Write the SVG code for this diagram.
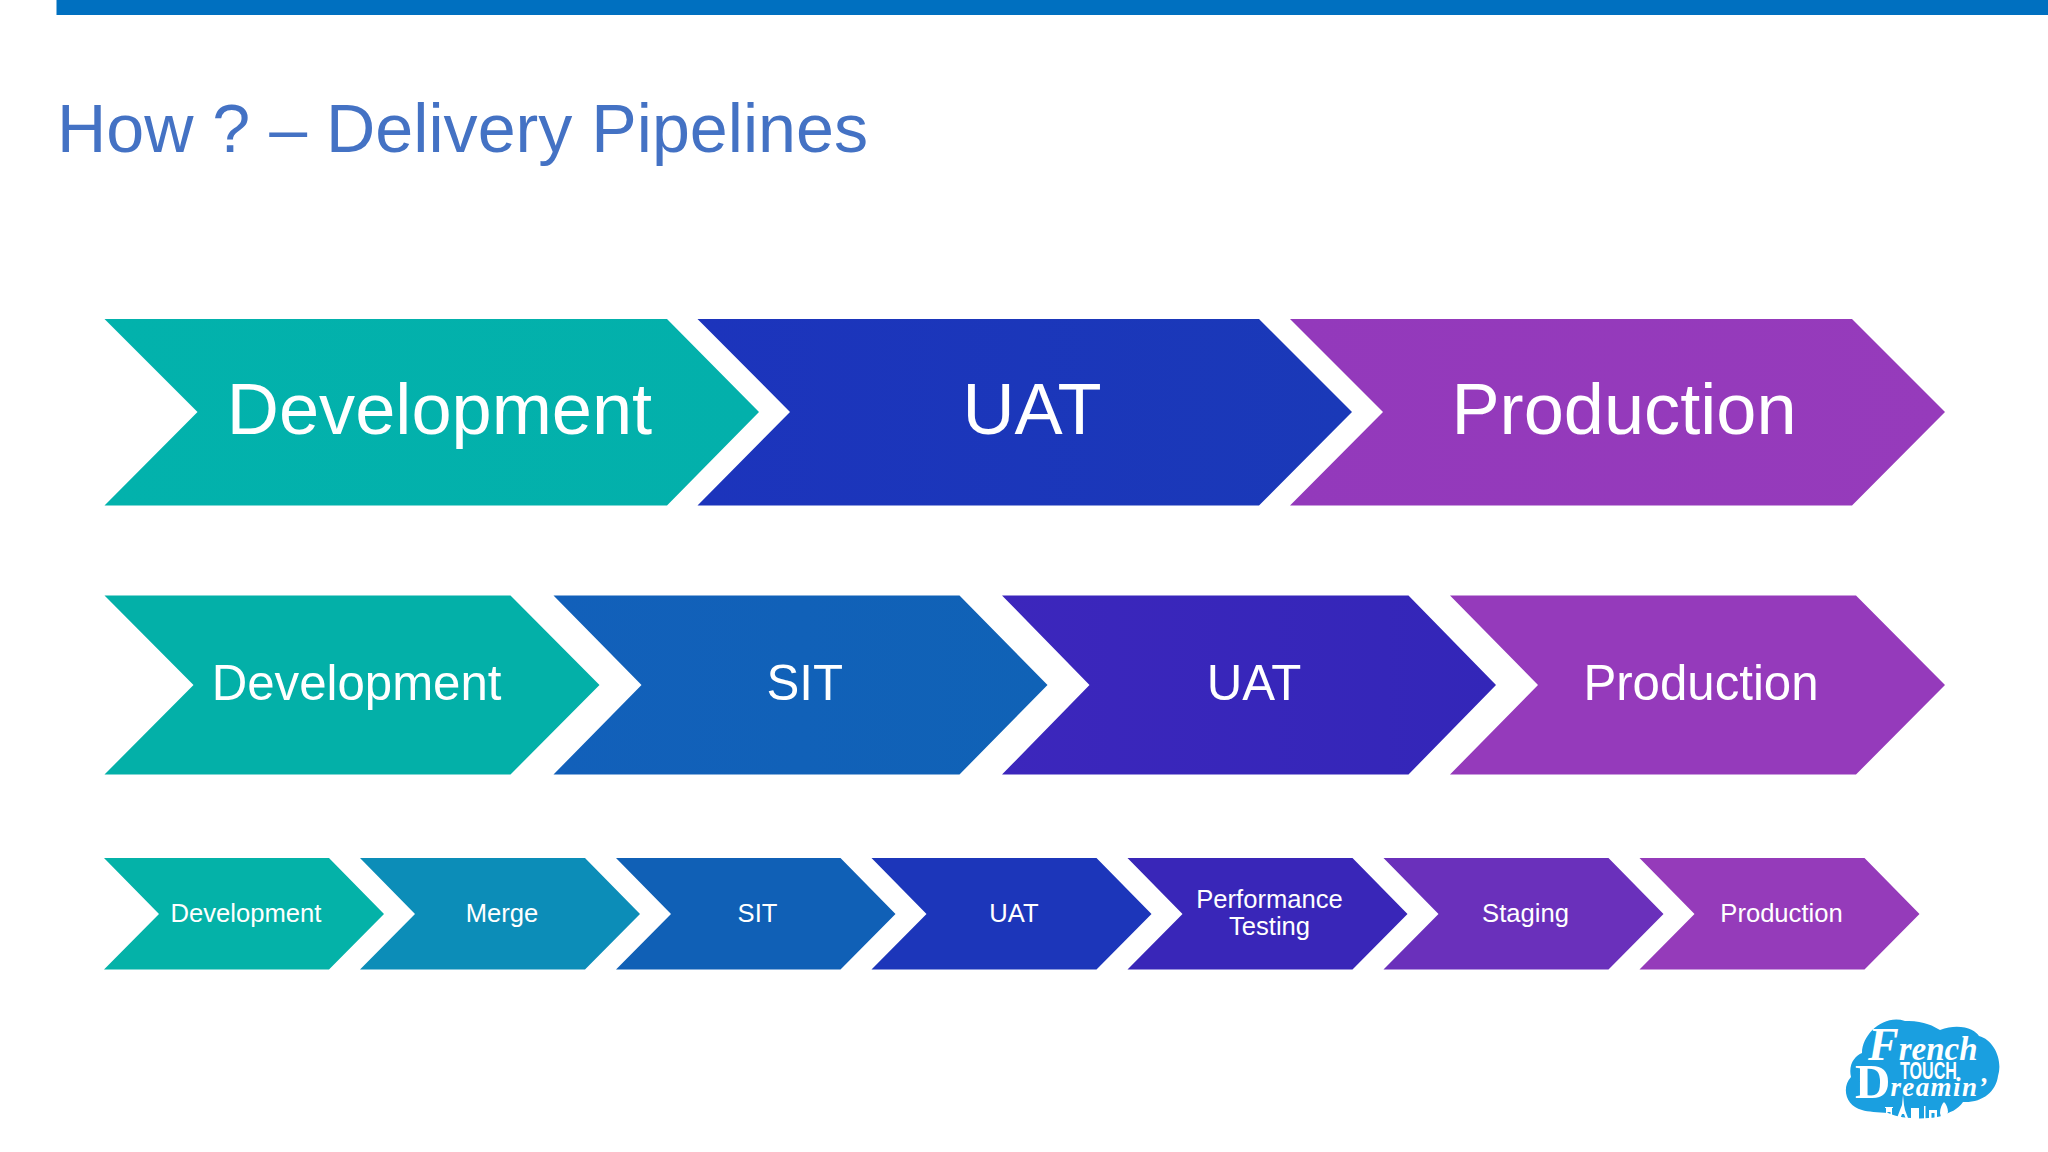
<svg xmlns="http://www.w3.org/2000/svg" width="2048" height="1152" viewBox="0 0 2048 1152">
<style>
text{font-family:"Liberation Sans",Arial,sans-serif;fill:#fff;text-anchor:middle}
.r1{font-size:72.2px}.r2{font-size:49.2px}.r3{font-size:25.6px}
.title{font-size:68.2px;fill:#4472c4;text-anchor:start}
.serif{font-family:"Liberation Serif",serif;font-weight:bold;text-anchor:start}
.sky{fill:#fff}
</style>
<defs>
<linearGradient id="g1a" x1="0" x2="1" y1="0" y2="0"><stop offset="0" stop-color="#02b2ac"/><stop offset="1" stop-color="#03b0ab"/></linearGradient>
<linearGradient id="g1b" x1="0" x2="1" y1="0" y2="0"><stop offset="0" stop-color="#1c34bc"/><stop offset="1" stop-color="#1a39b8"/></linearGradient>
<linearGradient id="g1c" x1="0" x2="1" y1="0" y2="0"><stop offset="0" stop-color="#9339bb"/><stop offset="1" stop-color="#963bbb"/></linearGradient>
<linearGradient id="g2b" x1="0" x2="1" y1="0" y2="0"><stop offset="0" stop-color="#1260ba"/><stop offset="1" stop-color="#1062b6"/></linearGradient>
<linearGradient id="g2c" x1="0" x2="1" y1="0" y2="0"><stop offset="0" stop-color="#3c26bc"/><stop offset="1" stop-color="#3326b8"/></linearGradient>
</defs>
<rect width="2048" height="1152" fill="#fff"/>
<rect x="56.500" y="0" width="1991.500" height="15" fill="#0070c0"/>
<text class="title" x="57" y="152">How ? – Delivery Pipelines</text>

<g id="row1-development"><polygon points="104.500,319 667,319 759,412 667,505.500 104.500,505.500 197.500,412" fill="url(#g1a)"/><text class="r1" x="439.500" y="434">Development</text></g>
<g id="row1-uat"><polygon points="697.500,319 1259,319 1352,412 1259,505.500 697.500,505.500 790,412" fill="url(#g1b)"/><text class="r1" x="1032" y="434">UAT</text></g>
<g id="row1-production"><polygon points="1290,319 1852,319 1945,412 1852,505.500 1290,505.500 1383,412" fill="url(#g1c)"/><text class="r1" x="1624" y="434">Production</text></g>

<g id="row2-development"><polygon points="104.500,595.500 510.500,595.500 599.500,685 510.500,774.500 104.500,774.500 193.500,685" fill="#03b0a8"/><text class="r2" x="356.600" y="700">Development</text></g>
<g id="row2-sit"><polygon points="553.500,595.500 959.500,595.500 1047.500,685 959.500,774.500 553.500,774.500 641.500,685" fill="url(#g2b)"/><text class="r2" x="804.800" y="700">SIT</text></g>
<g id="row2-uat"><polygon points="1002,595.500 1408.500,595.500 1496,685 1408.500,774.500 1002,774.500 1089.500,685" fill="url(#g2c)"/><text class="r2" x="1254" y="700">UAT</text></g>
<g id="row2-production"><polygon points="1450,595.500 1856,595.500 1945,685 1856,774.500 1450,774.500 1538,685" fill="#953abb"/><text class="r2" x="1701" y="700">Production</text></g>

<g id="row3-development"><polygon points="104,858 329,858 384,914 329,969.500 104,969.500 159,914" fill="#04b2a8"/><text class="r3" x="246" y="922">Development</text></g>
<g id="row3-merge"><polygon points="360,858 585,858 640,914 585,969.500 360,969.500 415,914" fill="#0c8db8"/><text class="r3" x="502" y="922">Merge</text></g>
<g id="row3-sit"><polygon points="616,858 840.500,858 895.500,914 840.500,969.500 616,969.500 671,914" fill="#1060b6"/><text class="r3" x="757.500" y="922">SIT</text></g>
<g id="row3-uat"><polygon points="871.500,858 1096.500,858 1151.500,914 1096.500,969.500 871.500,969.500 926.500,914" fill="#1c36ba"/><text class="r3" x="1014" y="922">UAT</text></g>
<g id="row3-performance-testing"><polygon points="1127.500,858 1352.500,858 1407.500,914 1352.500,969.500 1127.500,969.500 1182.500,914" fill="#3926b8"/><text class="r3" x="1269.500" y="908">Performance</text><text class="r3" x="1269.500" y="935">Testing</text></g>
<g id="row3-staging"><polygon points="1383.500,858 1608.500,858 1663.500,914 1608.500,969.500 1383.500,969.500 1438.500,914" fill="#6a30bb"/><text class="r3" x="1525.500" y="922">Staging</text></g>
<g id="row3-production"><polygon points="1639.500,858 1864.500,858 1919.500,914 1864.500,969.500 1639.500,969.500 1694.500,914" fill="#953bba"/><text class="r3" x="1781.500" y="922">Production</text></g>

<g id="logo">
<path d="M1862,1110 C1846,1106 1841,1088 1851,1077 C1848,1064 1855,1056 1862,1053 C1862,1034 1884,1014 1905,1021 C1922,1020 1934,1026 1940,1030 C1960,1022 1976,1030 1979,1036 C1994,1040 2003,1060 1998,1076 C1996,1092 1982,1103 1963,1102 C1958,1110 1948,1113 1946,1114 C1940,1119 1905,1121 1888,1113 C1878,1112 1868,1112 1862,1110Z" fill="#1a9fe0"/>
<text class="serif" x="1868" y="1060" font-style="italic"><tspan font-size="46">F</tspan><tspan font-size="33">rench</tspan></text>
<text x="1900" y="1079" font-size="23" font-weight="bold" style="text-anchor:start" textLength="57" lengthAdjust="spacingAndGlyphs">TOUCH</text>
<text class="serif" x="1855" y="1098"><tspan font-size="49">D</tspan><tspan font-size="27" font-style="italic" letter-spacing="1.4" dy="-2">reamin’</tspan></text>
<path class="sky" d="M1885,1107h8v1h-1v9h-1.500v-5h-3v5H1886v-9h-1z"/>
<path class="sky" d="M1903,1095l1,10 1,5 3,8h-2.500l-1.500,-4h-2l-1.500,4H1897l3,-8 2,-5z"/>
<path class="sky" d="M1911,1108h8v11h-8z"/>
<path class="sky" d="M1924,1106h1.500v13H1924z"/>
<path class="sky" d="M1929,1110h8v9h-2.500v-6h-3v6H1929z"/>
<path class="sky" d="M1940,1113c0,-5 2,-9 4,-11 2,2 4,6 4,10l-2,5h-5z"/>
</g>
</svg>
